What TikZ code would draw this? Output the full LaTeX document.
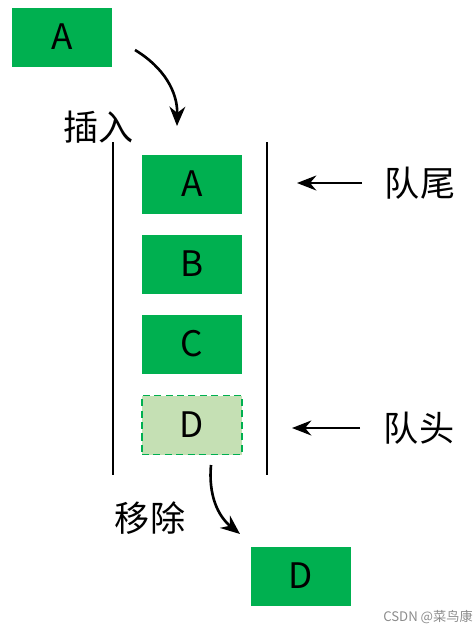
\documentclass[tikz,border=0pt]{standalone}
\usepackage{fontspec}
\setmainfont{Noto Sans CJK SC}
\usetikzlibrary{arrows.meta}
\definecolor{qgreen}{HTML}{00B050}
\definecolor{qpale}{HTML}{C5E0B4}
\tikzset{
  elem/.style={fill=qgreen, minimum width=2.0cm, minimum height=1.18cm, inner sep=0pt, font=\fontsize{20}{22}\selectfont},
  ghost/.style={elem, fill=qpale, draw=qgreen, dash pattern=on 4pt off 2.5pt, line width=1.1pt},
  wall/.style={line width=1.2pt, draw=black},
  move/.style={line width=1.5pt, -{Stealth[length=11pt,width=9pt]}},
  pointer/.style={line width=1.5pt, -{Stealth[length=11pt,width=8.5pt]}},
  tag/.style={font=\fontsize{20}{24}\selectfont, inner sep=0pt},
}

\begin{document}
\begin{tikzpicture}[x=0.02cm,y=-0.02cm]
\useasboundingbox (0,0) rectangle (474,630);
% queue walls
\draw[wall] (113,142) -- (113,475);
\draw[wall] (267,142) -- (267,475);
% elements
\node[elem] (inA) at (62,37) {A};
\node[elem] (qA) at (192,184) {A};
\node[elem] (qB) at (192,264) {B};
\node[elem] (qC) at (192,344) {C};
\node[ghost] (qD) at (192,425) {D};
\node[elem] (outD) at (301,576) {D};
% labels
\node[tag] (ins) at (99,127) {插入};
\node[tag] (del) at (150,518) {移除};
\node[tag] (tail) at (420,183) {队尾};
\node[tag] (head) at (419,428) {队头};
% arrows
\coordinate (insS) at (135,50);
\coordinate (insE) at (177,126);
\draw[move] (insS) to[bend left=30] (insE);
\coordinate (delS) at (211,465);
\coordinate (delE) at (240,534);
\draw[move] (delS) to[bend right=28] (delE);
\coordinate (tailS) at (362,183);
\coordinate (tailE) at (297,183);
\draw[pointer] (tailS) -- (tailE);
\coordinate (headS) at (360,428);
\coordinate (headE) at (292,428);
\draw[pointer] (headS) -- (headE);
% watermark
\node[text=black!45, font=\fontsize{7.5}{9}\selectfont] (mark) at (428,617) {CSDN @菜鸟康};
\end{tikzpicture}
\end{document}
